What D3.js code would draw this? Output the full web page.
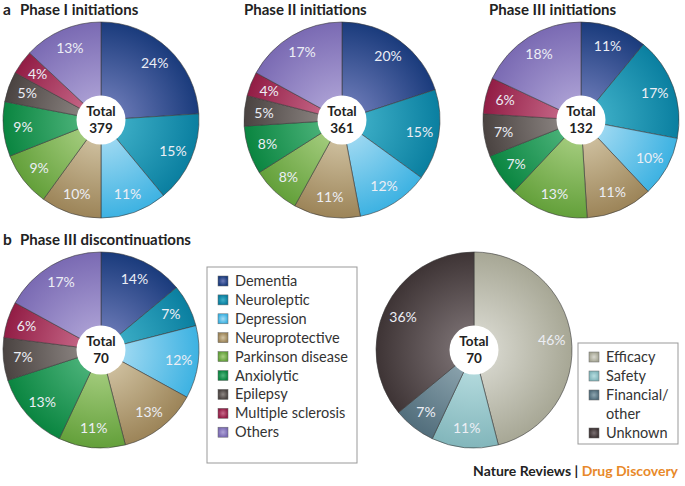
<!DOCTYPE html>
<html>
<head>
<meta charset="utf-8">
<script src="https://cdn.jsdelivr.net/npm/d3@7"></script>
<style>
  body { margin: 0; background: #fff; }
  text { font-family: Lato, "Open Sans", sans-serif; }
</style>
</head>
<body>
<svg id="chart" width="685" height="486"></svg>
<script>
// categories and values
const areas = ["Dementia", "Neuroleptic", "Depression", "Neuroprotective", "Parkinson disease",
               "Anxiolytic", "Epilepsy", "Multiple sclerosis", "Others"];
const phase1 = [24, 15, 11, 10, 9, 9, 5, 4, 13];
const phase2 = [20, 15, 12, 11, 8, 8, 5, 4, 17];
const phase3 = [11, 17, 10, 11, 13, 7, 7, 6, 18];
const phase3Disc = [14, 7, 12, 13, 11, 13, 7, 6, 17];
const reasons = ["Efficacy", "Safety", "Financial/other", "Unknown"];
const reasonValues = [46, 11, 7, 36];
const totals = [379, 361, 132, 70, 70];

// colours: [inner, outer]
const areaColors = [
  ["#6d7bb8", "#1a3b7c"], ["#3fb0c8", "#0a7fa0"], ["#a6dcf3", "#3db2e2"],
  ["#d2c4a4", "#9c8458"], ["#a8cf82", "#63a03a"], ["#4fb57d", "#0a8540"],
  ["#8e8784", "#4a4341"], ["#c86a8a", "#921d45"], ["#aea3d6", "#7a6ab3"]
];
const reasonColors = [
  ["#d8d8cf", "#a7a795"], ["#b7dde0", "#82b6bb"], ["#8ea6b0", "#526e7c"], ["#7a7072", "#3e3435"]
];

const R = 98, r0 = 24.5;
const svg = d3.select("#chart");
const defs = svg.append("defs");

function addGrad(id, c) {
  const g = defs.append("radialGradient")
    .attr("id", id)
    .attr("gradientUnits", "userSpaceOnUse")
    .attr("cx", 0).attr("cy", 0).attr("r", R);
  g.append("stop").attr("offset", "0.15").attr("stop-color", c[0]);
  g.append("stop").attr("offset", "1").attr("stop-color", c[1]);
  // small version for legend swatches
  const s = defs.append("radialGradient").attr("id", id + "s");
  s.append("stop").attr("offset", "0").attr("stop-color", c[0]);
  s.append("stop").attr("offset", "1").attr("stop-color", c[1]);
}
areaColors.forEach((c, i) => addGrad("ga" + i, c));
reasonColors.forEach((c, i) => addGrad("gr" + i, c));

const pie = d3.pie().sort(null).value(d => d);
const arc = d3.arc().innerRadius(0).outerRadius(R);
const labelArc = d3.arc().innerRadius(R * 0.8).outerRadius(R * 0.8);

function drawPie(cx, cy, values, prefix, total) {
  const g = svg.append("g").attr("transform", "translate(" + cx + "," + cy + ")");
  const arcs = pie(values);
  g.selectAll("path")
    .data(arcs)
    .enter()
    .append("path")
    .attr("d", arc)
    .attr("fill", (d, i) => "url(#" + prefix + i + ")")
    .attr("stroke", "#3a3a3a")
    .attr("stroke-width", 0.6);
  g.selectAll("text.pct")
    .data(arcs)
    .enter()
    .append("text")
    .attr("class", "pct")
    .attr("transform", d => "translate(" + labelArc.centroid(d) + ")")
    .attr("text-anchor", "middle")
    .attr("dy", "0.35em")
    .attr("fill", "#eceef5")
    .attr("font-size", 14)
    .text(d => d.data + "%");
  g.append("circle").attr("r", r0).attr("fill", "#fff");
  g.append("text")
    .attr("text-anchor", "middle").attr("y", -4)
    .attr("font-size", 13.5).attr("font-weight", "bold").attr("fill", "#222")
    .text("Total");
  g.append("text")
    .attr("text-anchor", "middle").attr("y", 12.5)
    .attr("font-size", 13.5).attr("font-weight", "bold").attr("fill", "#222")
    .text(total);
}

drawPie(101, 120, phase1, "ga", totals[0]);
drawPie(342, 120, phase2, "ga", totals[1]);
drawPie(581, 120, phase3, "ga", totals[2]);
drawPie(101, 350, phase3Disc, "ga", totals[3]);
drawPie(474, 350, reasonValues, "gr", totals[4]);

// titles
function title(x, y, letter, txt) {
  if (letter) {
    svg.append("text").attr("x", 3).attr("y", y)
      .attr("font-size", 15.5).attr("font-weight", "bold").attr("fill", "#222").text(letter);
  }
  svg.append("text").attr("x", x).attr("y", y)
    .attr("font-size", 15).attr("font-weight", "bold").attr("fill", "#222").text(txt);
}
title(20, 15, "a", "Phase I initiations");
title(244, 15, null, "Phase II initiations");
title(489, 15, null, "Phase III initiations");
title(20, 245, "b", "Phase III discontinuations");

// legends
function legend(x, y, w, h, items, prefix, step) {
  const g = svg.append("g").attr("transform", "translate(" + x + "," + y + ")");
  g.append("rect").attr("width", w).attr("height", h)
    .attr("fill", "#fff").attr("stroke", "#999").attr("stroke-width", 1);
  let row = 0;
  items.forEach((name, i) => {
    const lines = name === "Financial/other" ? ["Financial/", "other"] : [name];
    const yy = 14 + row * step;
    g.append("rect").attr("x", 11).attr("y", yy - 5).attr("width", 10).attr("height", 10)
      .attr("fill", "url(#" + prefix + i + "s)").attr("stroke", "#666").attr("stroke-width", 0.5);
    lines.forEach((ln, k) => {
      g.append("text").attr("x", 28).attr("y", yy + k * step).attr("dy", "0.35em")
        .attr("font-size", 14.5).attr("fill", "#333").text(ln);
    });
    row += lines.length;
  });
}
legend(207, 267, 150, 196, areas, "ga", 18.9);
legend(578, 343, 100, 101, reasons, "gr", 19);

// credit
const credit = svg.append("text").attr("x", 678).attr("y", 476)
  .attr("text-anchor", "end").attr("font-size", 14).attr("font-weight", "bold");
credit.append("tspan").attr("fill", "#222").text("Nature Reviews | ");
credit.append("tspan").attr("fill", "#e8892a").text("Drug Discovery");
</script>
</body>
</html>
